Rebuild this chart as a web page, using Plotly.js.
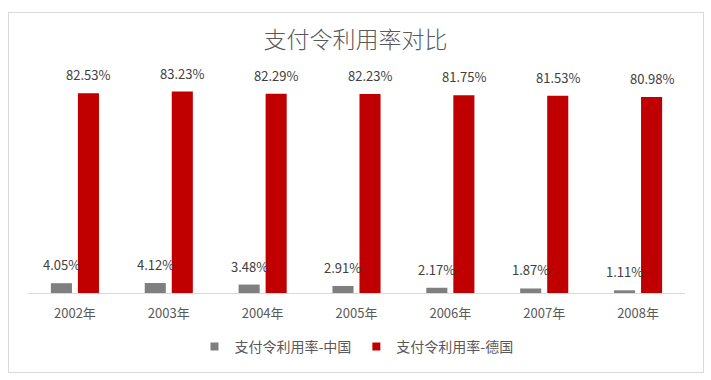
<!DOCTYPE html>
<html>
<head>
<meta charset="utf-8">
<script src="https://cdn.plot.ly/plotly-3.0.1.min.js"></script>
<style>
html,body{margin:0;padding:0;background:#fff;}
#wrap{position:relative;width:711px;height:380px;}
#chart{position:absolute;left:0;top:0;width:711px;height:380px;}
#frame{position:absolute;left:8px;top:12px;width:694px;height:359px;border:1px solid #d9d9d9;pointer-events:none;}
</style>
</head>
<body>
<div id="wrap"><div id="chart"></div><div id="frame"></div></div>
<script>
const years = ['2002年','2003年','2004年','2005年','2006年','2007年','2008年'];
const chinaName = '支付令利用率-中国';
const germanyName = '支付令利用率-德国';
const china = [4.05, 4.12, 3.48, 2.91, 2.17, 1.87, 1.11];
const germany = [82.53, 83.23, 82.29, 82.23, 81.75, 81.53, 80.98];

const grayC = '#7f7f7f', redC = '#c00000';
const font = '"Noto Sans CJK SC", "Microsoft YaHei", sans-serif';
const off = 0.144;

const traces = [
  {type:'bar', x:years, y:china, marker:{color:grayC}, showlegend:false, hoverinfo:'skip'},
  {type:'bar', x:years, y:germany, marker:{color:redC}, showlegend:false, hoverinfo:'skip'},
  {type:'scatter', mode:'markers', x:[null], y:[null], name:chinaName, marker:{symbol:'square', size:8, color:grayC}},
  {type:'scatter', mode:'markers', x:[null], y:[null], name:germanyName, marker:{symbol:'square', size:8, color:redC}}
];

const ann = [];
china.forEach((v,i)=>ann.push({xref:'x', yref:'y', x:i-off, y:v, text:v.toFixed(2)+'%', showarrow:false, yanchor:'bottom', yshift:7, font:{family:font,size:13,color:'#404040'}}));
germany.forEach((v,i)=>ann.push({xref:'x', yref:'y', x:i+off, y:v, text:v.toFixed(2)+'%', showarrow:false, yanchor:'bottom', yshift:7, font:{family:font,size:13,color:'#404040'}}));

const layout = {
  width:711, height:380,
  margin:{l:28, r:26, t:51, b:87},
  paper_bgcolor:'#fff', plot_bgcolor:'#fff',
  title:{text:'支付令利用率对比', font:{family:font, size:23, color:'#595959', weight:300}, x:0.5, xanchor:'center', yref:'container', y:1-40/380, yanchor:'middle'},
  barmode:'group', bargap:0.424, bargroupgap:0.22,
  xaxis:{type:'category', showgrid:false, zeroline:false, showline:true, linecolor:'#d9d9d9', linewidth:1, ticks:'', tickfont:{family:font,size:13,color:'#595959'}, ticklabelstandoff:8, fixedrange:true},
  yaxis:{range:[0,100], visible:false, showgrid:false, zeroline:false, fixedrange:true},
  showlegend:true,
  legend:{orientation:'h', x:0.5, xanchor:'center', y:(293-347)/242, yanchor:'middle', font:{family:font,size:14,color:'#595959'}, itemwidth:30},
  annotations:ann,
  hovermode:false
};
Plotly.newPlot('chart', traces, layout, {displayModeBar:false, staticPlot:true});
</script>
</body>
</html>
